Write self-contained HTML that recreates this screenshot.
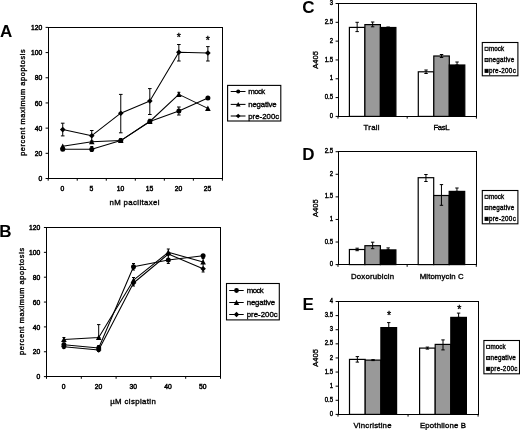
<!DOCTYPE html>
<html><head><meta charset="utf-8"><title>Figure</title>
<style>html,body{margin:0;padding:0;background:#fff}svg{display:block}</style></head>
<body>
<svg width="520" height="430" viewBox="0 0 520 430" font-family='"Liberation Sans", sans-serif' fill="#000">
<rect width="520" height="430" fill="#fff"/>
<text x="0.00" y="37.00" font-size="17" text-anchor="start" font-weight="bold"  >A</text>
<rect x="48.5" y="27.5" width="174.00" height="151.00" fill="none" stroke="#000" stroke-width="1" shape-rendering="crispEdges"/>
<line x1="45.60" y1="178.50" x2="48.20" y2="178.50" stroke="#000" stroke-width="1"/>
<text x="42.20" y="181.20" font-size="7.3" text-anchor="end" font-weight="normal" stroke="#000" stroke-width="0.5"  textLength="3.75" lengthAdjust="spacingAndGlyphs">0</text>
<line x1="45.60" y1="153.32" x2="48.20" y2="153.32" stroke="#000" stroke-width="1"/>
<text x="42.20" y="156.02" font-size="7.3" text-anchor="end" font-weight="normal" stroke="#000" stroke-width="0.5"  textLength="7.50" lengthAdjust="spacingAndGlyphs">20</text>
<line x1="45.60" y1="128.13" x2="48.20" y2="128.13" stroke="#000" stroke-width="1"/>
<text x="42.20" y="130.83" font-size="7.3" text-anchor="end" font-weight="normal" stroke="#000" stroke-width="0.5"  textLength="7.50" lengthAdjust="spacingAndGlyphs">40</text>
<line x1="45.60" y1="102.95" x2="48.20" y2="102.95" stroke="#000" stroke-width="1"/>
<text x="42.20" y="105.65" font-size="7.3" text-anchor="end" font-weight="normal" stroke="#000" stroke-width="0.5"  textLength="7.50" lengthAdjust="spacingAndGlyphs">60</text>
<line x1="45.60" y1="77.77" x2="48.20" y2="77.77" stroke="#000" stroke-width="1"/>
<text x="42.20" y="80.47" font-size="7.3" text-anchor="end" font-weight="normal" stroke="#000" stroke-width="0.5"  textLength="7.50" lengthAdjust="spacingAndGlyphs">80</text>
<line x1="45.60" y1="52.58" x2="48.20" y2="52.58" stroke="#000" stroke-width="1"/>
<text x="42.20" y="55.28" font-size="7.3" text-anchor="end" font-weight="normal" stroke="#000" stroke-width="0.5"  textLength="11.25" lengthAdjust="spacingAndGlyphs">100</text>
<line x1="45.60" y1="27.40" x2="48.20" y2="27.40" stroke="#000" stroke-width="1"/>
<text x="42.20" y="30.10" font-size="7.3" text-anchor="end" font-weight="normal" stroke="#000" stroke-width="0.5"  textLength="11.25" lengthAdjust="spacingAndGlyphs">120</text>
<line x1="48.20" y1="178.50" x2="48.20" y2="180.70" stroke="#000" stroke-width="1"/>
<line x1="77.23" y1="178.50" x2="77.23" y2="180.70" stroke="#000" stroke-width="1"/>
<line x1="106.27" y1="178.50" x2="106.27" y2="180.70" stroke="#000" stroke-width="1"/>
<line x1="135.30" y1="178.50" x2="135.30" y2="180.70" stroke="#000" stroke-width="1"/>
<line x1="164.33" y1="178.50" x2="164.33" y2="180.70" stroke="#000" stroke-width="1"/>
<line x1="193.37" y1="178.50" x2="193.37" y2="180.70" stroke="#000" stroke-width="1"/>
<line x1="222.40" y1="178.50" x2="222.40" y2="180.70" stroke="#000" stroke-width="1"/>
<text x="62.42" y="191.00" font-size="7.3" text-anchor="middle" font-weight="normal" stroke="#000" stroke-width="0.5"  textLength="3.75" lengthAdjust="spacingAndGlyphs">0</text>
<text x="91.45" y="191.00" font-size="7.3" text-anchor="middle" font-weight="normal" stroke="#000" stroke-width="0.5"  textLength="3.75" lengthAdjust="spacingAndGlyphs">5</text>
<text x="120.48" y="191.00" font-size="7.3" text-anchor="middle" font-weight="normal" stroke="#000" stroke-width="0.5"  textLength="7.50" lengthAdjust="spacingAndGlyphs">10</text>
<text x="149.52" y="191.00" font-size="7.3" text-anchor="middle" font-weight="normal" stroke="#000" stroke-width="0.5"  textLength="7.50" lengthAdjust="spacingAndGlyphs">15</text>
<text x="178.55" y="191.00" font-size="7.3" text-anchor="middle" font-weight="normal" stroke="#000" stroke-width="0.5"  textLength="7.50" lengthAdjust="spacingAndGlyphs">20</text>
<text x="207.58" y="191.00" font-size="7.3" text-anchor="middle" font-weight="normal" stroke="#000" stroke-width="0.5"  textLength="7.50" lengthAdjust="spacingAndGlyphs">25</text>
<text x="134.50" y="205.00" font-size="7.8" text-anchor="middle" font-weight="normal" stroke="#000" stroke-width="0.35"  textLength="50.00" lengthAdjust="spacing">nM paclitaxel</text>
<text transform="translate(24.6,102.6) rotate(-90)" font-size="7.4" stroke="#000" stroke-width="0.35" text-anchor="middle" textLength="106.5" lengthAdjust="spacing">percent maximum apoptosis</text>
<polyline points="62.72,149.30 91.75,149.30 120.78,140.60 149.82,121.50 178.85,111.00 207.88,97.90" fill="none" stroke="#000" stroke-width="1.05" stroke-linejoin="round"/>
<polyline points="62.72,146.20 91.75,141.80 120.78,140.60 149.82,121.50 178.85,94.40 207.88,108.40" fill="none" stroke="#000" stroke-width="1.05" stroke-linejoin="round"/>
<polyline points="62.72,129.60 91.75,135.70 120.78,113.20 149.82,101.00 178.85,52.20 207.88,53.00" fill="none" stroke="#000" stroke-width="1.05" stroke-linejoin="round"/>
<line x1="62.72" y1="123.20" x2="62.72" y2="135.90" stroke="#000" stroke-width="1"/>
<line x1="60.92" y1="123.20" x2="64.52" y2="123.20" stroke="#000" stroke-width="1"/>
<line x1="60.92" y1="135.90" x2="64.52" y2="135.90" stroke="#000" stroke-width="1"/>
<line x1="91.75" y1="130.50" x2="91.75" y2="141.00" stroke="#000" stroke-width="1"/>
<line x1="89.95" y1="130.50" x2="93.55" y2="130.50" stroke="#000" stroke-width="1"/>
<line x1="89.95" y1="141.00" x2="93.55" y2="141.00" stroke="#000" stroke-width="1"/>
<line x1="120.78" y1="94.40" x2="120.78" y2="132.80" stroke="#000" stroke-width="1"/>
<line x1="118.98" y1="94.40" x2="122.58" y2="94.40" stroke="#000" stroke-width="1"/>
<line x1="118.98" y1="132.80" x2="122.58" y2="132.80" stroke="#000" stroke-width="1"/>
<line x1="149.82" y1="88.60" x2="149.82" y2="114.50" stroke="#000" stroke-width="1"/>
<line x1="148.02" y1="88.60" x2="151.62" y2="88.60" stroke="#000" stroke-width="1"/>
<line x1="148.02" y1="114.50" x2="151.62" y2="114.50" stroke="#000" stroke-width="1"/>
<line x1="178.85" y1="44.50" x2="178.85" y2="61.00" stroke="#000" stroke-width="1"/>
<line x1="177.05" y1="44.50" x2="180.65" y2="44.50" stroke="#000" stroke-width="1"/>
<line x1="177.05" y1="61.00" x2="180.65" y2="61.00" stroke="#000" stroke-width="1"/>
<line x1="207.88" y1="46.60" x2="207.88" y2="61.00" stroke="#000" stroke-width="1"/>
<line x1="206.08" y1="46.60" x2="209.68" y2="46.60" stroke="#000" stroke-width="1"/>
<line x1="206.08" y1="61.00" x2="209.68" y2="61.00" stroke="#000" stroke-width="1"/>
<line x1="178.85" y1="107.00" x2="178.85" y2="115.00" stroke="#000" stroke-width="1"/>
<line x1="177.05" y1="107.00" x2="180.65" y2="107.00" stroke="#000" stroke-width="1"/>
<line x1="177.05" y1="115.00" x2="180.65" y2="115.00" stroke="#000" stroke-width="1"/>
<line x1="178.85" y1="92.30" x2="178.85" y2="96.50" stroke="#000" stroke-width="1"/>
<line x1="177.35" y1="92.30" x2="180.35" y2="92.30" stroke="#000" stroke-width="1"/>
<line x1="177.35" y1="96.50" x2="180.35" y2="96.50" stroke="#000" stroke-width="1"/>
<line x1="149.82" y1="119.30" x2="149.82" y2="123.50" stroke="#000" stroke-width="1"/>
<line x1="148.32" y1="119.30" x2="151.32" y2="119.30" stroke="#000" stroke-width="1"/>
<line x1="148.32" y1="123.50" x2="151.32" y2="123.50" stroke="#000" stroke-width="1"/>
<line x1="91.75" y1="146.50" x2="91.75" y2="151.50" stroke="#000" stroke-width="1"/>
<line x1="90.25" y1="146.50" x2="93.25" y2="146.50" stroke="#000" stroke-width="1"/>
<line x1="90.25" y1="151.50" x2="93.25" y2="151.50" stroke="#000" stroke-width="1"/>
<line x1="120.78" y1="138.50" x2="120.78" y2="142.50" stroke="#000" stroke-width="1"/>
<line x1="119.28" y1="138.50" x2="122.28" y2="138.50" stroke="#000" stroke-width="1"/>
<line x1="119.28" y1="142.50" x2="122.28" y2="142.50" stroke="#000" stroke-width="1"/>
<circle cx="62.72" cy="149.30" r="2.5" fill="#000"/>
<circle cx="91.75" cy="149.30" r="2.5" fill="#000"/>
<circle cx="120.78" cy="140.60" r="2.5" fill="#000"/>
<circle cx="149.82" cy="121.50" r="2.5" fill="#000"/>
<circle cx="178.85" cy="111.00" r="2.5" fill="#000"/>
<circle cx="207.88" cy="97.90" r="2.5" fill="#000"/>
<path d="M59.92 148.70L65.52 148.70L62.72 143.40Z" fill="#000"/>
<path d="M88.95 144.30L94.55 144.30L91.75 139.00Z" fill="#000"/>
<path d="M117.98 143.10L123.58 143.10L120.78 137.80Z" fill="#000"/>
<path d="M147.02 124.00L152.62 124.00L149.82 118.70Z" fill="#000"/>
<path d="M176.05 96.90L181.65 96.90L178.85 91.60Z" fill="#000"/>
<path d="M205.08 110.90L210.68 110.90L207.88 105.60Z" fill="#000"/>
<path d="M59.92 129.60L62.72 126.80L65.52 129.60L62.72 132.40Z" fill="#000"/>
<path d="M88.95 135.70L91.75 132.90L94.55 135.70L91.75 138.50Z" fill="#000"/>
<path d="M117.98 113.20L120.78 110.40L123.58 113.20L120.78 116.00Z" fill="#000"/>
<path d="M147.02 101.00L149.82 98.20L152.62 101.00L149.82 103.80Z" fill="#000"/>
<path d="M176.05 52.20L178.85 49.40L181.65 52.20L178.85 55.00Z" fill="#000"/>
<path d="M205.08 53.00L207.88 50.20L210.68 53.00L207.88 55.80Z" fill="#000"/>
<text x="178.85" y="41.20" font-size="10.5" text-anchor="middle" font-weight="normal" stroke="#000" stroke-width="0.35" >*</text>
<text x="207.88" y="44.20" font-size="10.5" text-anchor="middle" font-weight="normal" stroke="#000" stroke-width="0.35" >*</text>
<rect x="227.6" y="85.4" width="53.2" height="35.6" fill="#fff" stroke="#000" stroke-width="1.1"/>
<line x1="230.70" y1="91.50" x2="245.50" y2="91.50" stroke="#000" stroke-width="1.05"/>
<circle cx="238.20" cy="91.50" r="2.05" fill="#000"/>
<text x="248.20" y="94.00" font-size="7.8" text-anchor="start" font-weight="normal" stroke="#000" stroke-width="0.35"  textLength="17.00" lengthAdjust="spacing">mock</text>
<line x1="230.70" y1="104.40" x2="245.50" y2="104.40" stroke="#000" stroke-width="1.05"/>
<path d="M235.85 106.45L240.55 106.45L238.20 102.05Z" fill="#000"/>
<text x="248.20" y="106.90" font-size="7.8" text-anchor="start" font-weight="normal" stroke="#000" stroke-width="0.35"  textLength="28.50" lengthAdjust="spacing">negative</text>
<line x1="230.70" y1="116.00" x2="245.50" y2="116.00" stroke="#000" stroke-width="1.05"/>
<path d="M235.85 116.00L238.20 113.65L240.55 116.00L238.20 118.35Z" fill="#000"/>
<text x="248.20" y="118.50" font-size="7.8" text-anchor="start" font-weight="normal" stroke="#000" stroke-width="0.35"  textLength="31.00" lengthAdjust="spacing">pre-200c</text>
<text x="-0.70" y="237.00" font-size="17" text-anchor="start" font-weight="bold"  >B</text>
<rect x="46.5" y="227.5" width="174.00" height="149.00" fill="none" stroke="#000" stroke-width="1" shape-rendering="crispEdges"/>
<line x1="43.90" y1="376.60" x2="46.50" y2="376.60" stroke="#000" stroke-width="1"/>
<text x="40.30" y="379.30" font-size="7.3" text-anchor="end" font-weight="normal" stroke="#000" stroke-width="0.5"  textLength="3.75" lengthAdjust="spacingAndGlyphs">0</text>
<line x1="43.90" y1="351.75" x2="46.50" y2="351.75" stroke="#000" stroke-width="1"/>
<text x="40.30" y="354.45" font-size="7.3" text-anchor="end" font-weight="normal" stroke="#000" stroke-width="0.5"  textLength="7.50" lengthAdjust="spacingAndGlyphs">20</text>
<line x1="43.90" y1="326.90" x2="46.50" y2="326.90" stroke="#000" stroke-width="1"/>
<text x="40.30" y="329.60" font-size="7.3" text-anchor="end" font-weight="normal" stroke="#000" stroke-width="0.5"  textLength="7.50" lengthAdjust="spacingAndGlyphs">40</text>
<line x1="43.90" y1="302.05" x2="46.50" y2="302.05" stroke="#000" stroke-width="1"/>
<text x="40.30" y="304.75" font-size="7.3" text-anchor="end" font-weight="normal" stroke="#000" stroke-width="0.5"  textLength="7.50" lengthAdjust="spacingAndGlyphs">60</text>
<line x1="43.90" y1="277.20" x2="46.50" y2="277.20" stroke="#000" stroke-width="1"/>
<text x="40.30" y="279.90" font-size="7.3" text-anchor="end" font-weight="normal" stroke="#000" stroke-width="0.5"  textLength="7.50" lengthAdjust="spacingAndGlyphs">80</text>
<line x1="43.90" y1="252.35" x2="46.50" y2="252.35" stroke="#000" stroke-width="1"/>
<text x="40.30" y="255.05" font-size="7.3" text-anchor="end" font-weight="normal" stroke="#000" stroke-width="0.5"  textLength="11.25" lengthAdjust="spacingAndGlyphs">100</text>
<line x1="43.90" y1="227.50" x2="46.50" y2="227.50" stroke="#000" stroke-width="1"/>
<text x="40.30" y="230.20" font-size="7.3" text-anchor="end" font-weight="normal" stroke="#000" stroke-width="0.5"  textLength="11.25" lengthAdjust="spacingAndGlyphs">120</text>
<line x1="46.50" y1="376.60" x2="46.50" y2="378.80" stroke="#000" stroke-width="1"/>
<line x1="81.30" y1="376.60" x2="81.30" y2="378.80" stroke="#000" stroke-width="1"/>
<line x1="116.10" y1="376.60" x2="116.10" y2="378.80" stroke="#000" stroke-width="1"/>
<line x1="150.90" y1="376.60" x2="150.90" y2="378.80" stroke="#000" stroke-width="1"/>
<line x1="185.70" y1="376.60" x2="185.70" y2="378.80" stroke="#000" stroke-width="1"/>
<line x1="220.50" y1="376.60" x2="220.50" y2="378.80" stroke="#000" stroke-width="1"/>
<text x="63.60" y="388.70" font-size="7.3" text-anchor="middle" font-weight="normal" stroke="#000" stroke-width="0.5"  textLength="3.75" lengthAdjust="spacingAndGlyphs">0</text>
<text x="98.40" y="388.70" font-size="7.3" text-anchor="middle" font-weight="normal" stroke="#000" stroke-width="0.5"  textLength="7.50" lengthAdjust="spacingAndGlyphs">20</text>
<text x="133.20" y="388.70" font-size="7.3" text-anchor="middle" font-weight="normal" stroke="#000" stroke-width="0.5"  textLength="7.50" lengthAdjust="spacingAndGlyphs">30</text>
<text x="168.00" y="388.70" font-size="7.3" text-anchor="middle" font-weight="normal" stroke="#000" stroke-width="0.5"  textLength="7.50" lengthAdjust="spacingAndGlyphs">40</text>
<text x="202.80" y="388.70" font-size="7.3" text-anchor="middle" font-weight="normal" stroke="#000" stroke-width="0.5"  textLength="7.50" lengthAdjust="spacingAndGlyphs">50</text>
<text x="133.00" y="403.50" font-size="7.8" text-anchor="middle" font-weight="normal" stroke="#000" stroke-width="0.35"  textLength="45.50" lengthAdjust="spacing">µM cisplatin</text>
<text transform="translate(24,301.4) rotate(-90)" font-size="7.4" stroke="#000" stroke-width="0.35" text-anchor="middle" textLength="107" lengthAdjust="spacing">percent maximum apoptosis</text>
<polyline points="63.90,344.80 98.70,348.00 133.50,266.70 168.30,260.00 203.10,255.80" fill="none" stroke="#000" stroke-width="1.05" stroke-linejoin="round"/>
<polyline points="63.90,339.60 98.70,337.50 133.50,280.20 168.30,252.30 203.10,262.00" fill="none" stroke="#000" stroke-width="1.05" stroke-linejoin="round"/>
<polyline points="63.90,346.70 98.70,350.00 133.50,283.00 168.30,254.00 203.10,268.70" fill="none" stroke="#000" stroke-width="1.05" stroke-linejoin="round"/>
<line x1="98.70" y1="324.60" x2="98.70" y2="337.50" stroke="#000" stroke-width="1"/>
<line x1="97.00" y1="324.60" x2="100.40" y2="324.60" stroke="#000" stroke-width="1"/>
<line x1="97.00" y1="337.50" x2="100.40" y2="337.50" stroke="#000" stroke-width="1"/>
<line x1="63.90" y1="337.50" x2="63.90" y2="341.50" stroke="#000" stroke-width="1"/>
<line x1="62.40" y1="337.50" x2="65.40" y2="337.50" stroke="#000" stroke-width="1"/>
<line x1="62.40" y1="341.50" x2="65.40" y2="341.50" stroke="#000" stroke-width="1"/>
<line x1="63.90" y1="343.00" x2="63.90" y2="348.50" stroke="#000" stroke-width="1"/>
<line x1="62.40" y1="343.00" x2="65.40" y2="343.00" stroke="#000" stroke-width="1"/>
<line x1="62.40" y1="348.50" x2="65.40" y2="348.50" stroke="#000" stroke-width="1"/>
<line x1="98.70" y1="345.50" x2="98.70" y2="351.50" stroke="#000" stroke-width="1"/>
<line x1="97.20" y1="345.50" x2="100.20" y2="345.50" stroke="#000" stroke-width="1"/>
<line x1="97.20" y1="351.50" x2="100.20" y2="351.50" stroke="#000" stroke-width="1"/>
<line x1="133.50" y1="263.50" x2="133.50" y2="270.00" stroke="#000" stroke-width="1"/>
<line x1="132.00" y1="263.50" x2="135.00" y2="263.50" stroke="#000" stroke-width="1"/>
<line x1="132.00" y1="270.00" x2="135.00" y2="270.00" stroke="#000" stroke-width="1"/>
<line x1="133.50" y1="277.50" x2="133.50" y2="286.00" stroke="#000" stroke-width="1"/>
<line x1="132.00" y1="277.50" x2="135.00" y2="277.50" stroke="#000" stroke-width="1"/>
<line x1="132.00" y1="286.00" x2="135.00" y2="286.00" stroke="#000" stroke-width="1"/>
<line x1="168.30" y1="249.00" x2="168.30" y2="263.50" stroke="#000" stroke-width="1"/>
<line x1="166.80" y1="249.00" x2="169.80" y2="249.00" stroke="#000" stroke-width="1"/>
<line x1="166.80" y1="263.50" x2="169.80" y2="263.50" stroke="#000" stroke-width="1"/>
<line x1="203.10" y1="258.50" x2="203.10" y2="272.00" stroke="#000" stroke-width="1"/>
<line x1="201.60" y1="258.50" x2="204.60" y2="258.50" stroke="#000" stroke-width="1"/>
<line x1="201.60" y1="272.00" x2="204.60" y2="272.00" stroke="#000" stroke-width="1"/>
<circle cx="63.90" cy="344.80" r="2.5" fill="#000"/>
<circle cx="98.70" cy="348.00" r="2.5" fill="#000"/>
<circle cx="133.50" cy="266.70" r="2.5" fill="#000"/>
<circle cx="168.30" cy="260.00" r="2.5" fill="#000"/>
<circle cx="203.10" cy="255.80" r="2.5" fill="#000"/>
<path d="M61.10 342.10L66.70 342.10L63.90 336.80Z" fill="#000"/>
<path d="M95.90 340.00L101.50 340.00L98.70 334.70Z" fill="#000"/>
<path d="M130.70 282.70L136.30 282.70L133.50 277.40Z" fill="#000"/>
<path d="M165.50 254.80L171.10 254.80L168.30 249.50Z" fill="#000"/>
<path d="M200.30 264.50L205.90 264.50L203.10 259.20Z" fill="#000"/>
<path d="M61.10 346.70L63.90 343.90L66.70 346.70L63.90 349.50Z" fill="#000"/>
<path d="M95.90 350.00L98.70 347.20L101.50 350.00L98.70 352.80Z" fill="#000"/>
<path d="M130.70 283.00L133.50 280.20L136.30 283.00L133.50 285.80Z" fill="#000"/>
<path d="M165.50 254.00L168.30 251.20L171.10 254.00L168.30 256.80Z" fill="#000"/>
<path d="M200.30 268.70L203.10 265.90L205.90 268.70L203.10 271.50Z" fill="#000"/>
<rect x="226.5" y="283.5" width="52.8" height="36.4" fill="#fff" stroke="#000" stroke-width="1.1"/>
<line x1="229.20" y1="290.50" x2="243.70" y2="290.50" stroke="#000" stroke-width="1.05"/>
<circle cx="236.50" cy="290.50" r="2.4" fill="#000"/>
<text x="246.70" y="293.20" font-size="7.8" text-anchor="start" font-weight="normal" stroke="#000" stroke-width="0.35"  textLength="17.00" lengthAdjust="spacing">mock</text>
<line x1="229.20" y1="302.50" x2="243.70" y2="302.50" stroke="#000" stroke-width="1.05"/>
<path d="M233.80 304.90L239.20 304.90L236.50 299.80Z" fill="#000"/>
<text x="246.70" y="305.20" font-size="7.8" text-anchor="start" font-weight="normal" stroke="#000" stroke-width="0.35"  textLength="28.50" lengthAdjust="spacing">negative</text>
<line x1="229.20" y1="314.50" x2="243.70" y2="314.50" stroke="#000" stroke-width="1.05"/>
<path d="M233.80 314.50L236.50 311.80L239.20 314.50L236.50 317.20Z" fill="#000"/>
<text x="246.70" y="317.20" font-size="7.8" text-anchor="start" font-weight="normal" stroke="#000" stroke-width="0.35"  textLength="31.00" lengthAdjust="spacing">pre-200c</text>
<text x="302.30" y="13.00" font-size="17" text-anchor="start" font-weight="bold"  >C</text>
<rect x="338.5" y="3.5" width="138.00" height="113.00" fill="none" stroke="#000" stroke-width="1" shape-rendering="crispEdges"/>
<line x1="335.60" y1="116.40" x2="338.00" y2="116.40" stroke="#000" stroke-width="1"/>
<text x="333.00" y="118.00" font-size="7" text-anchor="end" font-weight="normal" stroke="#000" stroke-width="0.45"  textLength="3.30" lengthAdjust="spacingAndGlyphs">0</text>
<line x1="335.60" y1="97.58" x2="338.00" y2="97.58" stroke="#000" stroke-width="1"/>
<text x="333.00" y="99.18" font-size="7" text-anchor="end" font-weight="normal" stroke="#000" stroke-width="0.45"  textLength="8.30" lengthAdjust="spacingAndGlyphs">0.5</text>
<line x1="335.60" y1="78.77" x2="338.00" y2="78.77" stroke="#000" stroke-width="1"/>
<text x="333.00" y="80.37" font-size="7" text-anchor="end" font-weight="normal" stroke="#000" stroke-width="0.45"  textLength="3.30" lengthAdjust="spacingAndGlyphs">1</text>
<line x1="335.60" y1="59.95" x2="338.00" y2="59.95" stroke="#000" stroke-width="1"/>
<text x="333.00" y="61.55" font-size="7" text-anchor="end" font-weight="normal" stroke="#000" stroke-width="0.45"  textLength="8.30" lengthAdjust="spacingAndGlyphs">1.5</text>
<line x1="335.60" y1="41.13" x2="338.00" y2="41.13" stroke="#000" stroke-width="1"/>
<text x="333.00" y="42.73" font-size="7" text-anchor="end" font-weight="normal" stroke="#000" stroke-width="0.45"  textLength="3.30" lengthAdjust="spacingAndGlyphs">2</text>
<line x1="335.60" y1="22.32" x2="338.00" y2="22.32" stroke="#000" stroke-width="1"/>
<text x="333.00" y="23.92" font-size="7" text-anchor="end" font-weight="normal" stroke="#000" stroke-width="0.45"  textLength="8.30" lengthAdjust="spacingAndGlyphs">2.5</text>
<line x1="335.60" y1="3.50" x2="338.00" y2="3.50" stroke="#000" stroke-width="1"/>
<text x="333.00" y="5.10" font-size="7" text-anchor="end" font-weight="normal" stroke="#000" stroke-width="0.45"  textLength="3.30" lengthAdjust="spacingAndGlyphs">3</text>
<line x1="338.00" y1="116.40" x2="338.00" y2="118.60" stroke="#000" stroke-width="1"/>
<line x1="407.20" y1="116.40" x2="407.20" y2="118.60" stroke="#000" stroke-width="1"/>
<line x1="476.40" y1="116.40" x2="476.40" y2="118.60" stroke="#000" stroke-width="1"/>
<text transform="translate(318.3,59.95) rotate(-90)" font-size="8" stroke="#000" stroke-width="0.35" text-anchor="middle" textLength="17.5" lengthAdjust="spacingAndGlyphs">A405</text>
<rect x="349.40" y="27.40" width="15.50" height="89.00" fill="#fff" stroke="#000" stroke-width="1.2"/>
<line x1="357.15" y1="22.30" x2="357.15" y2="31.60" stroke="#000" stroke-width="1"/>
<line x1="355.45" y1="22.30" x2="358.85" y2="22.30" stroke="#000" stroke-width="1"/>
<line x1="355.45" y1="31.60" x2="358.85" y2="31.60" stroke="#000" stroke-width="1"/>
<rect x="364.90" y="24.60" width="15.50" height="91.80" fill="#999" stroke="#000" stroke-width="1.2"/>
<line x1="372.65" y1="22.00" x2="372.65" y2="26.80" stroke="#000" stroke-width="1"/>
<line x1="370.95" y1="22.00" x2="374.35" y2="22.00" stroke="#000" stroke-width="1"/>
<line x1="370.95" y1="26.80" x2="374.35" y2="26.80" stroke="#000" stroke-width="1"/>
<rect x="380.40" y="27.50" width="15.50" height="88.90" fill="#000" stroke="#000" stroke-width="1.2"/>
<line x1="388.15" y1="27.00" x2="388.15" y2="28.00" stroke="#000" stroke-width="1"/>
<line x1="386.45" y1="27.00" x2="389.85" y2="27.00" stroke="#000" stroke-width="1"/>
<line x1="386.45" y1="28.00" x2="389.85" y2="28.00" stroke="#000" stroke-width="1"/>
<rect x="418.30" y="71.80" width="15.50" height="44.60" fill="#fff" stroke="#000" stroke-width="1.2"/>
<line x1="426.05" y1="70.00" x2="426.05" y2="73.50" stroke="#000" stroke-width="1"/>
<line x1="424.35" y1="70.00" x2="427.75" y2="70.00" stroke="#000" stroke-width="1"/>
<line x1="424.35" y1="73.50" x2="427.75" y2="73.50" stroke="#000" stroke-width="1"/>
<rect x="433.80" y="56.00" width="15.50" height="60.40" fill="#999" stroke="#000" stroke-width="1.2"/>
<line x1="441.55" y1="54.50" x2="441.55" y2="57.50" stroke="#000" stroke-width="1"/>
<line x1="439.85" y1="54.50" x2="443.25" y2="54.50" stroke="#000" stroke-width="1"/>
<line x1="439.85" y1="57.50" x2="443.25" y2="57.50" stroke="#000" stroke-width="1"/>
<rect x="449.30" y="65.00" width="15.50" height="51.40" fill="#000" stroke="#000" stroke-width="1.2"/>
<line x1="457.05" y1="62.00" x2="457.05" y2="65.00" stroke="#000" stroke-width="1"/>
<line x1="455.35" y1="62.00" x2="458.75" y2="62.00" stroke="#000" stroke-width="1"/>
<line x1="455.35" y1="65.00" x2="458.75" y2="65.00" stroke="#000" stroke-width="1"/>
<text x="371.50" y="130.40" font-size="7.8" text-anchor="middle" font-weight="normal" stroke="#000" stroke-width="0.35"  textLength="16.00" lengthAdjust="spacing">Trail</text>
<text x="441.50" y="130.40" font-size="7.8" text-anchor="middle" font-weight="normal" stroke="#000" stroke-width="0.35"  textLength="16.00" lengthAdjust="spacing">FasL</text>
<rect x="482.3" y="42.5" width="35.60" height="33.30" fill="#fff" stroke="#000" stroke-width="1.1"/>
<rect x="485.00" y="47.30" width="3.1" height="3.1" fill="#fff" stroke="#000" stroke-width="0.9"/>
<text x="488.90" y="51.00" font-size="6.3" text-anchor="start" font-weight="normal" stroke="#000" stroke-width="0.35"  textLength="15.20" lengthAdjust="spacing">mock</text>
<rect x="485.00" y="58.50" width="3.1" height="3.1" fill="#999" stroke="#000" stroke-width="0.9"/>
<text x="488.90" y="62.20" font-size="6.3" text-anchor="start" font-weight="normal" stroke="#000" stroke-width="0.35"  textLength="25.30" lengthAdjust="spacing">negative</text>
<rect x="485.00" y="69.30" width="3.1" height="3.1" fill="#000" stroke="#000" stroke-width="0.9"/>
<text x="488.90" y="73.00" font-size="6.3" text-anchor="start" font-weight="normal" stroke="#000" stroke-width="0.35"  textLength="26.90" lengthAdjust="spacing">pre-200c</text>
<text x="302.30" y="160.40" font-size="17" text-anchor="start" font-weight="bold"  >D</text>
<rect x="338.5" y="151.5" width="138.00" height="113.00" fill="none" stroke="#000" stroke-width="1" shape-rendering="crispEdges"/>
<line x1="335.60" y1="264.60" x2="338.00" y2="264.60" stroke="#000" stroke-width="1"/>
<text x="333.00" y="266.20" font-size="7" text-anchor="end" font-weight="normal" stroke="#000" stroke-width="0.45"  textLength="3.30" lengthAdjust="spacingAndGlyphs">0</text>
<line x1="335.60" y1="242.02" x2="338.00" y2="242.02" stroke="#000" stroke-width="1"/>
<text x="333.00" y="243.62" font-size="7" text-anchor="end" font-weight="normal" stroke="#000" stroke-width="0.45"  textLength="8.30" lengthAdjust="spacingAndGlyphs">0.5</text>
<line x1="335.60" y1="219.44" x2="338.00" y2="219.44" stroke="#000" stroke-width="1"/>
<text x="333.00" y="221.04" font-size="7" text-anchor="end" font-weight="normal" stroke="#000" stroke-width="0.45"  textLength="3.30" lengthAdjust="spacingAndGlyphs">1</text>
<line x1="335.60" y1="196.86" x2="338.00" y2="196.86" stroke="#000" stroke-width="1"/>
<text x="333.00" y="198.46" font-size="7" text-anchor="end" font-weight="normal" stroke="#000" stroke-width="0.45"  textLength="8.30" lengthAdjust="spacingAndGlyphs">1.5</text>
<line x1="335.60" y1="174.28" x2="338.00" y2="174.28" stroke="#000" stroke-width="1"/>
<text x="333.00" y="175.88" font-size="7" text-anchor="end" font-weight="normal" stroke="#000" stroke-width="0.45"  textLength="3.30" lengthAdjust="spacingAndGlyphs">2</text>
<line x1="335.60" y1="151.70" x2="338.00" y2="151.70" stroke="#000" stroke-width="1"/>
<text x="333.00" y="153.30" font-size="7" text-anchor="end" font-weight="normal" stroke="#000" stroke-width="0.45"  textLength="8.30" lengthAdjust="spacingAndGlyphs">2.5</text>
<line x1="338.00" y1="264.60" x2="338.00" y2="266.80" stroke="#000" stroke-width="1"/>
<line x1="407.15" y1="264.60" x2="407.15" y2="266.80" stroke="#000" stroke-width="1"/>
<line x1="476.30" y1="264.60" x2="476.30" y2="266.80" stroke="#000" stroke-width="1"/>
<text transform="translate(318.3,208.15) rotate(-90)" font-size="8" stroke="#000" stroke-width="0.35" text-anchor="middle" textLength="17.5" lengthAdjust="spacingAndGlyphs">A405</text>
<rect x="349.40" y="249.50" width="15.50" height="15.10" fill="#fff" stroke="#000" stroke-width="1.2"/>
<line x1="357.15" y1="248.20" x2="357.15" y2="250.70" stroke="#000" stroke-width="1"/>
<line x1="355.45" y1="248.20" x2="358.85" y2="248.20" stroke="#000" stroke-width="1"/>
<line x1="355.45" y1="250.70" x2="358.85" y2="250.70" stroke="#000" stroke-width="1"/>
<rect x="364.90" y="245.70" width="15.50" height="18.90" fill="#999" stroke="#000" stroke-width="1.2"/>
<line x1="372.65" y1="242.20" x2="372.65" y2="248.70" stroke="#000" stroke-width="1"/>
<line x1="370.95" y1="242.20" x2="374.35" y2="242.20" stroke="#000" stroke-width="1"/>
<line x1="370.95" y1="248.70" x2="374.35" y2="248.70" stroke="#000" stroke-width="1"/>
<rect x="380.40" y="249.90" width="15.50" height="14.70" fill="#000" stroke="#000" stroke-width="1.2"/>
<line x1="388.15" y1="247.90" x2="388.15" y2="249.90" stroke="#000" stroke-width="1"/>
<line x1="386.45" y1="247.90" x2="389.85" y2="247.90" stroke="#000" stroke-width="1"/>
<line x1="386.45" y1="249.90" x2="389.85" y2="249.90" stroke="#000" stroke-width="1"/>
<rect x="418.20" y="177.70" width="15.50" height="86.90" fill="#fff" stroke="#000" stroke-width="1.2"/>
<line x1="425.95" y1="174.50" x2="425.95" y2="181.50" stroke="#000" stroke-width="1"/>
<line x1="424.25" y1="174.50" x2="427.65" y2="174.50" stroke="#000" stroke-width="1"/>
<line x1="424.25" y1="181.50" x2="427.65" y2="181.50" stroke="#000" stroke-width="1"/>
<rect x="433.70" y="195.50" width="15.50" height="69.10" fill="#999" stroke="#000" stroke-width="1.2"/>
<line x1="441.45" y1="184.60" x2="441.45" y2="205.30" stroke="#000" stroke-width="1"/>
<line x1="439.75" y1="184.60" x2="443.15" y2="184.60" stroke="#000" stroke-width="1"/>
<line x1="439.75" y1="205.30" x2="443.15" y2="205.30" stroke="#000" stroke-width="1"/>
<rect x="449.20" y="191.40" width="15.50" height="73.20" fill="#000" stroke="#000" stroke-width="1.2"/>
<line x1="456.95" y1="188.00" x2="456.95" y2="191.40" stroke="#000" stroke-width="1"/>
<line x1="455.25" y1="188.00" x2="458.65" y2="188.00" stroke="#000" stroke-width="1"/>
<line x1="455.25" y1="191.40" x2="458.65" y2="191.40" stroke="#000" stroke-width="1"/>
<text x="372.50" y="278.70" font-size="7.8" text-anchor="middle" font-weight="normal" stroke="#000" stroke-width="0.35"  textLength="43.00" lengthAdjust="spacing">Doxorubicin</text>
<text x="441.70" y="278.70" font-size="7.8" text-anchor="middle" font-weight="normal" stroke="#000" stroke-width="0.35"  textLength="44.00" lengthAdjust="spacing">Mitomycin C</text>
<rect x="482.3" y="190.5" width="35.60" height="33.30" fill="#fff" stroke="#000" stroke-width="1.1"/>
<rect x="485.00" y="195.30" width="3.1" height="3.1" fill="#fff" stroke="#000" stroke-width="0.9"/>
<text x="488.90" y="199.00" font-size="6.3" text-anchor="start" font-weight="normal" stroke="#000" stroke-width="0.35"  textLength="15.20" lengthAdjust="spacing">mock</text>
<rect x="485.00" y="206.50" width="3.1" height="3.1" fill="#999" stroke="#000" stroke-width="0.9"/>
<text x="488.90" y="210.20" font-size="6.3" text-anchor="start" font-weight="normal" stroke="#000" stroke-width="0.35"  textLength="25.30" lengthAdjust="spacing">negative</text>
<rect x="485.00" y="217.30" width="3.1" height="3.1" fill="#000" stroke="#000" stroke-width="0.9"/>
<text x="488.90" y="221.00" font-size="6.3" text-anchor="start" font-weight="normal" stroke="#000" stroke-width="0.35"  textLength="26.90" lengthAdjust="spacing">pre-200c</text>
<text x="302.60" y="310.00" font-size="17" text-anchor="start" font-weight="bold"  >E</text>
<rect x="338.5" y="301.5" width="140.00" height="113.00" fill="none" stroke="#000" stroke-width="1" shape-rendering="crispEdges"/>
<line x1="335.60" y1="414.40" x2="338.00" y2="414.40" stroke="#000" stroke-width="1"/>
<text x="333.00" y="416.00" font-size="7" text-anchor="end" font-weight="normal" stroke="#000" stroke-width="0.45"  textLength="3.30" lengthAdjust="spacingAndGlyphs">0</text>
<line x1="335.60" y1="400.29" x2="338.00" y2="400.29" stroke="#000" stroke-width="1"/>
<text x="333.00" y="401.89" font-size="7" text-anchor="end" font-weight="normal" stroke="#000" stroke-width="0.45"  textLength="8.30" lengthAdjust="spacingAndGlyphs">0.5</text>
<line x1="335.60" y1="386.17" x2="338.00" y2="386.17" stroke="#000" stroke-width="1"/>
<text x="333.00" y="387.77" font-size="7" text-anchor="end" font-weight="normal" stroke="#000" stroke-width="0.45"  textLength="3.30" lengthAdjust="spacingAndGlyphs">1</text>
<line x1="335.60" y1="372.06" x2="338.00" y2="372.06" stroke="#000" stroke-width="1"/>
<text x="333.00" y="373.66" font-size="7" text-anchor="end" font-weight="normal" stroke="#000" stroke-width="0.45"  textLength="8.30" lengthAdjust="spacingAndGlyphs">1.5</text>
<line x1="335.60" y1="357.95" x2="338.00" y2="357.95" stroke="#000" stroke-width="1"/>
<text x="333.00" y="359.55" font-size="7" text-anchor="end" font-weight="normal" stroke="#000" stroke-width="0.45"  textLength="3.30" lengthAdjust="spacingAndGlyphs">2</text>
<line x1="335.60" y1="343.84" x2="338.00" y2="343.84" stroke="#000" stroke-width="1"/>
<text x="333.00" y="345.44" font-size="7" text-anchor="end" font-weight="normal" stroke="#000" stroke-width="0.45"  textLength="8.30" lengthAdjust="spacingAndGlyphs">2.5</text>
<line x1="335.60" y1="329.73" x2="338.00" y2="329.73" stroke="#000" stroke-width="1"/>
<text x="333.00" y="331.33" font-size="7" text-anchor="end" font-weight="normal" stroke="#000" stroke-width="0.45"  textLength="3.30" lengthAdjust="spacingAndGlyphs">3</text>
<line x1="335.60" y1="315.61" x2="338.00" y2="315.61" stroke="#000" stroke-width="1"/>
<text x="333.00" y="317.21" font-size="7" text-anchor="end" font-weight="normal" stroke="#000" stroke-width="0.45"  textLength="8.30" lengthAdjust="spacingAndGlyphs">3.5</text>
<line x1="335.60" y1="301.50" x2="338.00" y2="301.50" stroke="#000" stroke-width="1"/>
<text x="333.00" y="303.10" font-size="7" text-anchor="end" font-weight="normal" stroke="#000" stroke-width="0.45"  textLength="3.30" lengthAdjust="spacingAndGlyphs">4</text>
<line x1="338.00" y1="414.40" x2="338.00" y2="416.60" stroke="#000" stroke-width="1"/>
<line x1="408.05" y1="414.40" x2="408.05" y2="416.60" stroke="#000" stroke-width="1"/>
<line x1="478.10" y1="414.40" x2="478.10" y2="416.60" stroke="#000" stroke-width="1"/>
<text transform="translate(318.3,357.95) rotate(-90)" font-size="8" stroke="#000" stroke-width="0.35" text-anchor="middle" textLength="17.5" lengthAdjust="spacingAndGlyphs">A405</text>
<rect x="349.50" y="359.40" width="15.70" height="55.00" fill="#fff" stroke="#000" stroke-width="1.2"/>
<line x1="357.35" y1="356.60" x2="357.35" y2="362.10" stroke="#000" stroke-width="1"/>
<line x1="355.65" y1="356.60" x2="359.05" y2="356.60" stroke="#000" stroke-width="1"/>
<line x1="355.65" y1="362.10" x2="359.05" y2="362.10" stroke="#000" stroke-width="1"/>
<rect x="365.20" y="360.10" width="15.70" height="54.30" fill="#999" stroke="#000" stroke-width="1.2"/>
<line x1="373.05" y1="359.60" x2="373.05" y2="360.60" stroke="#000" stroke-width="1"/>
<line x1="371.35" y1="359.60" x2="374.75" y2="359.60" stroke="#000" stroke-width="1"/>
<line x1="371.35" y1="360.60" x2="374.75" y2="360.60" stroke="#000" stroke-width="1"/>
<rect x="380.90" y="327.60" width="15.70" height="86.80" fill="#000" stroke="#000" stroke-width="1.2"/>
<line x1="388.75" y1="322.60" x2="388.75" y2="327.60" stroke="#000" stroke-width="1"/>
<line x1="387.05" y1="322.60" x2="390.45" y2="322.60" stroke="#000" stroke-width="1"/>
<line x1="387.05" y1="327.60" x2="390.45" y2="327.60" stroke="#000" stroke-width="1"/>
<rect x="419.60" y="348.10" width="15.60" height="66.30" fill="#fff" stroke="#000" stroke-width="1.2"/>
<line x1="427.40" y1="347.10" x2="427.40" y2="349.10" stroke="#000" stroke-width="1"/>
<line x1="425.70" y1="347.10" x2="429.10" y2="347.10" stroke="#000" stroke-width="1"/>
<line x1="425.70" y1="349.10" x2="429.10" y2="349.10" stroke="#000" stroke-width="1"/>
<rect x="435.20" y="344.40" width="15.60" height="70.00" fill="#999" stroke="#000" stroke-width="1.2"/>
<line x1="443.00" y1="339.90" x2="443.00" y2="349.90" stroke="#000" stroke-width="1"/>
<line x1="441.30" y1="339.90" x2="444.70" y2="339.90" stroke="#000" stroke-width="1"/>
<line x1="441.30" y1="349.90" x2="444.70" y2="349.90" stroke="#000" stroke-width="1"/>
<rect x="450.80" y="317.40" width="15.60" height="97.00" fill="#000" stroke="#000" stroke-width="1.2"/>
<line x1="458.60" y1="313.10" x2="458.60" y2="317.40" stroke="#000" stroke-width="1"/>
<line x1="456.90" y1="313.10" x2="460.30" y2="313.10" stroke="#000" stroke-width="1"/>
<line x1="456.90" y1="317.40" x2="460.30" y2="317.40" stroke="#000" stroke-width="1"/>
<text x="372.50" y="427.80" font-size="7.8" text-anchor="middle" font-weight="normal" stroke="#000" stroke-width="0.35"  textLength="38.00" lengthAdjust="spacing">Vincristine</text>
<text x="443.00" y="427.80" font-size="7.8" text-anchor="middle" font-weight="normal" stroke="#000" stroke-width="0.35"  textLength="46.00" lengthAdjust="spacing">Epothilone B</text>
<rect x="483.9" y="340.5" width="35.60" height="33.30" fill="#fff" stroke="#000" stroke-width="1.1"/>
<rect x="486.60" y="345.30" width="3.1" height="3.1" fill="#fff" stroke="#000" stroke-width="0.9"/>
<text x="490.50" y="349.00" font-size="6.3" text-anchor="start" font-weight="normal" stroke="#000" stroke-width="0.35"  textLength="15.20" lengthAdjust="spacing">mock</text>
<rect x="486.60" y="356.50" width="3.1" height="3.1" fill="#999" stroke="#000" stroke-width="0.9"/>
<text x="490.50" y="360.20" font-size="6.3" text-anchor="start" font-weight="normal" stroke="#000" stroke-width="0.35"  textLength="25.30" lengthAdjust="spacing">negative</text>
<rect x="486.60" y="367.30" width="3.1" height="3.1" fill="#000" stroke="#000" stroke-width="0.9"/>
<text x="490.50" y="371.00" font-size="6.3" text-anchor="start" font-weight="normal" stroke="#000" stroke-width="0.35"  textLength="26.90" lengthAdjust="spacing">pre-200c</text>
<text x="389.00" y="318.60" font-size="10.5" text-anchor="middle" font-weight="normal" stroke="#000" stroke-width="0.35" >*</text>
<text x="459.40" y="313.00" font-size="10.5" text-anchor="middle" font-weight="normal" stroke="#000" stroke-width="0.35" >*</text>
</svg>
</body></html>
